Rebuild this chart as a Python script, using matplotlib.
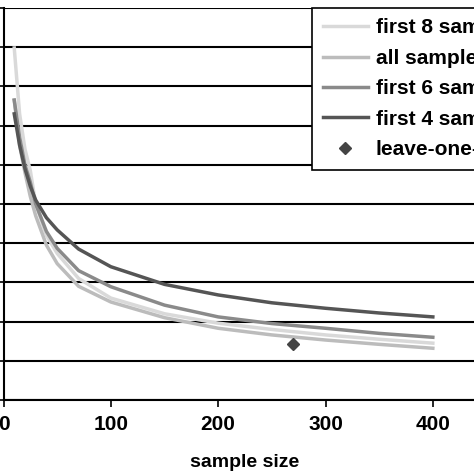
import matplotlib
matplotlib.use("Agg")
import matplotlib.pyplot as plt

n = [10, 15, 20, 25, 30, 40, 50, 70, 100, 150, 200, 250, 300, 350, 400]
first8 = [8.98, 7.3, 6.4, 5.85, 5.0, 4.2, 3.74, 3.1, 2.6, 2.2, 1.96, 1.8, 1.66, 1.55, 1.45]
all_sizes = [7.65, 6.5, 5.8, 5.19, 4.7, 3.95, 3.48, 2.9, 2.5, 2.1, 1.83, 1.66, 1.53, 1.42, 1.32]
first6 = [7.65, 6.7, 6.0, 5.55, 5.0, 4.3, 3.87, 3.3, 2.89, 2.42, 2.12, 1.95, 1.83, 1.7, 1.6]
first4 = [7.3, 6.5, 5.9, 5.45, 5.1, 4.65, 4.34, 3.85, 3.4, 2.95, 2.68, 2.48, 2.34, 2.22, 2.12]
loo_n = [270]
loo_v = [1.42]

plt.rcParams['font.family'] = ['Liberation Sans', 'DejaVu Sans']
fig = plt.figure(figsize=(4.74, 4.74), dpi=100)
ax = fig.add_axes([3.5/474, 74/474, 483/474, 392/474])
ax.set_xlim(0, 450)
ax.set_ylim(0, 10)
ax.set_yticks(range(0, 11))
ax.set_yticklabels([])
ax.grid(axis='y', color='black', lw=1.5)
ax.set_axisbelow(True)
ax.set_xticks([0, 100, 200, 300, 400])
ax.set_xticklabels(['0', '100', '200', '300', '400'], fontsize=15, fontweight='bold')
ax.tick_params(axis='x', direction='out', length=5, width=1.2, pad=6)
ax.tick_params(axis='y', direction='out', length=3, width=1.2)
for s in ['top', 'right']:
    ax.spines[s].set_visible(False)
for s in ['left', 'bottom']:
    ax.spines[s].set_linewidth(1.5)

ax.plot(n, first8, color='#d9d9d9', lw=2.5, label='first 8 samples')
ax.plot(n, all_sizes, color='#bcbcbc', lw=2.5, label='all sample sizes')
ax.plot(n, first6, color='#8a8a8a', lw=2.5, label='first 6 samples')
ax.plot(n, first4, color='#555555', lw=2.5, label='first 4 samples')
ax.plot(loo_n, loo_v, ls='none', marker='D', ms=6, color='#444444', label='leave-one-out')

ax.set_xlabel('sample size', fontsize=14, fontweight='bold', labelpad=14)
leg = ax.legend(loc='upper left', bbox_to_anchor=(0.639, 1.0), borderaxespad=0,
                fancybox=False, framealpha=1, edgecolor='black',
                handlelength=2.2, handletextpad=0.35, labelspacing=0.55, borderpad=0.5,
                prop={'weight': 'bold', 'size': 15})
leg.get_frame().set_linewidth(1.2)
fig.savefig('out.png', dpi=100)
